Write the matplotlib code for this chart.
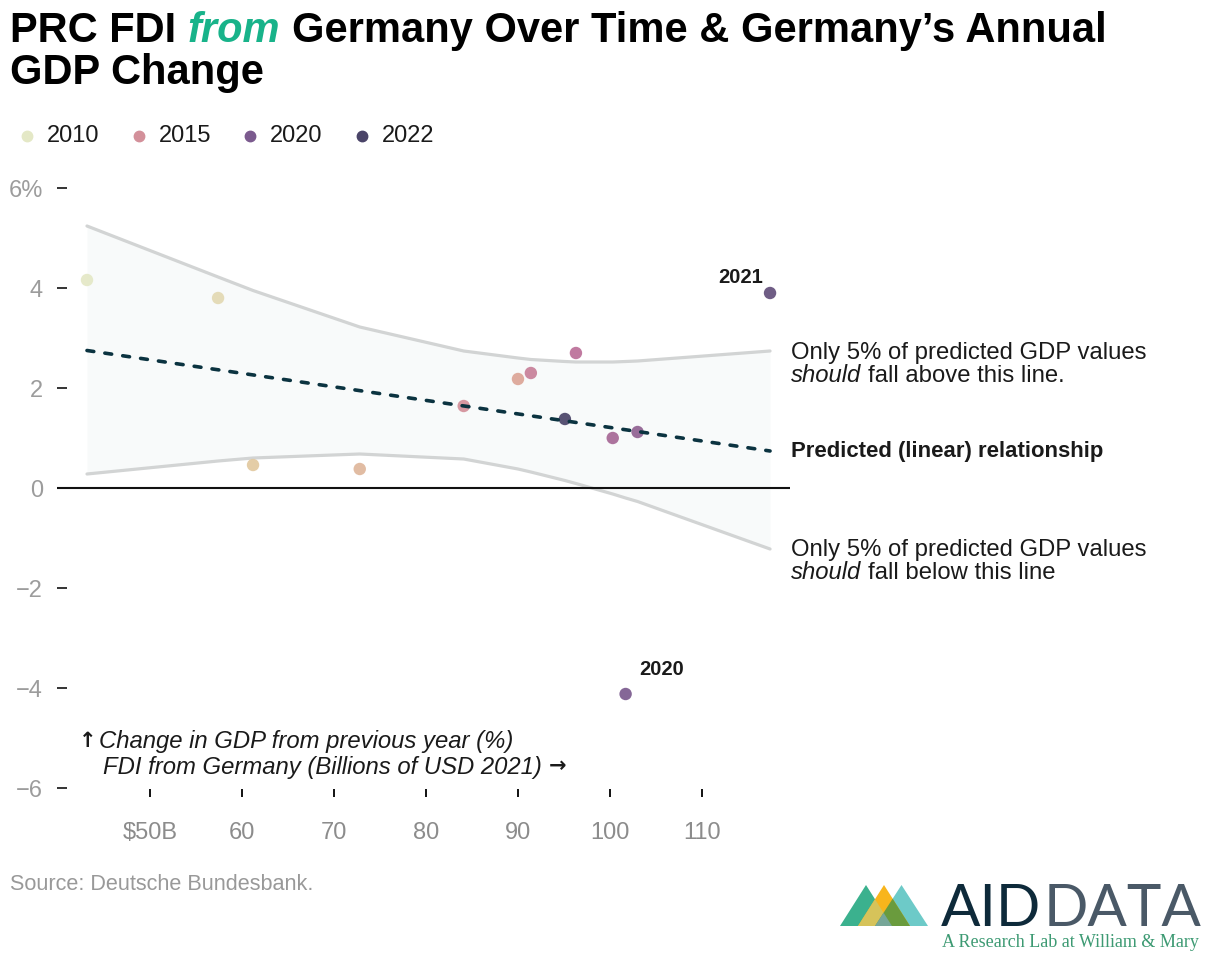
import numpy as np
import matplotlib
matplotlib.use("Agg")
import matplotlib.pyplot as plt
from matplotlib.colors import LinearSegmentedColormap
from matplotlib.lines import Line2D
from matplotlib.patches import Polygon

# ---------------- data ----------------
years = [2010, 2011, 2012, 2013, 2014, 2015, 2016, 2017, 2018, 2019, 2020, 2021, 2022]
fdi_bn = [43.15, 57.4, 61.2, 72.8, 90.0, 84.1, 91.4, 96.3, 100.3, 103.0, 101.7, 117.4, 95.1]
gdp_change = [4.16, 3.80, 0.46, 0.38, 2.18, 1.64, 2.30, 2.70, 1.00, 1.12, -4.12, 3.90, 1.38]

band_x = [43.15, 57.4, 61.2, 72.8, 84.1, 90.0, 91.4, 95.1, 96.3, 100.3, 101.7, 103.0, 117.4]
band_upper = [5.24, 4.22, 3.95, 3.22, 2.74, 2.60, 2.57, 2.53, 2.52, 2.52, 2.53, 2.54, 2.74]
band_lower = [0.28, 0.54, 0.60, 0.68, 0.58, 0.38, 0.32, 0.15, 0.09, -0.12, -0.20, -0.27, -1.22]

fit_x = [43.15, 117.4]
fit_y = [2.75, 0.74]

legend_years = [2010, 2015, 2020, 2022]
x_ticks = [50, 60, 70, 80, 90, 100, 110]
x_tick_labels = ["\\$50B", "60", "70", "80", "90", "100", "110"]
y_ticks = [6, 4, 2, 0, -2, -4, -6]
y_tick_labels = ["6%", "4", "2", "0", "\u22122", "\u22124", "\u22126"]

# ---------------- style ----------------
plt.rcParams["font.family"] = ["Liberation Sans", "DejaVu Sans"]
W, H = 1220, 972
fig = plt.figure(figsize=(W / 100, H / 100), dpi=100)
fig.patch.set_facecolor("white")

def fx(x):
    return x / W

def fy(y):
    return 1 - y / H

anchors = [(0.0, "#e4e8c6"), (2 / 12, "#e2c9a0"), (4 / 12, "#dca596"),
           (5 / 12, "#d3909a"), (7 / 12, "#bb6f98"), (10 / 12, "#7c5a8e"), (1.0, "#4a4468")]
cmap = LinearSegmentedColormap.from_list("yrs", anchors)

def ycol(y):
    return cmap((y - 2010) / 12)

ax = fig.add_axes([fx(57), 1 - 789 / H, 733 / W, (789 - 173) / H])
ax.set_xlim(39.89, 119.57)
ax.set_ylim(-6.02, 6.3)
for s in ax.spines.values():
    s.set_visible(False)

ax.fill_between(band_x, band_lower, band_upper, color="#f8fafa", lw=0, zorder=1)
ax.plot(band_x, band_upper, color="#d2d4d4", lw=2.3, zorder=2, solid_capstyle="round")
ax.plot(band_x, band_lower, color="#d2d4d4", lw=2.3, zorder=2, solid_capstyle="round")
ax.axhline(0, color="#111111", lw=1.5, zorder=3)

ax.scatter(fdi_bn, gdp_change, s=80, c=[ycol(y) for y in years], lw=0, alpha=0.92, zorder=4)
ax.plot(fit_x, fit_y, color="#0b3340", lw=2.6, dashes=(1.9, 3.1), dash_capstyle="round", zorder=5)

ax.set_xticks(x_ticks)
ax.set_xticklabels(x_tick_labels)
ax.set_yticks(y_ticks)
ax.set_yticklabels(y_tick_labels)
ax.tick_params(axis="y", direction="in", length=7.2, width=1.2, color="#111111",
               pad=10, labelsize=17, labelcolor="#9c9c9c")
ax.tick_params(axis="x", direction="out", length=5.8, width=1.4, color="#111111",
               pad=18, labelsize=17, labelcolor="#8c8c8c")

i21 = years.index(2021)
ax.annotate("2021", xy=(fdi_bn[i21], gdp_change[i21]), xytext=(-5, 11), textcoords="offset points",
            ha="right", va="center", fontsize=14.5, fontweight="bold", color="#1a1a1a")
i20 = years.index(2020)
ax.annotate("2020", xy=(fdi_bn[i20], gdp_change[i20]), xytext=(10, 18), textcoords="offset points",
            ha="left", va="center", fontsize=14.5, fontweight="bold", color="#1a1a1a")

fig.canvas.draw()
renderer = fig.canvas.get_renderer()

def rich(x, y, parts, size, color="#1a1a1a"):
    """parts: list of (text, style, weight, color); x,y pixel (baseline)"""
    cx = x
    for txt, style, weight, col in parts:
        lead = len(txt) - len(txt.lstrip(" "))
        core = txt.strip(" ")
        trail = len(txt) - len(txt.rstrip(" "))
        sp = size * 100 / 72 * 0.278
        cx += lead * sp
        t = fig.text(fx(cx), fy(y), core, fontsize=size, fontstyle=style, fontweight=weight,
                     color=col if col else color, ha="left", va="baseline")
        bb = t.get_window_extent(renderer)
        cx = bb.x1 + trail * sp
    return cx

# title
green = "#18b38a"
rich(10, 42, [("PRC FDI ", "normal", "bold", "#000000"), ("from", "italic", "bold", green),
              (" Germany Over Time & Germany\u2019s Annual", "normal", "bold", "#000000")], 30)
rich(10, 84, [("GDP Change", "normal", "bold", "#000000")], 30)

# legend
for lx, yr in zip([27, 139, 250, 362], legend_years):
    fig.add_artist(Line2D([fx(lx)], [fy(136)], marker="o", markersize=7.5, color=ycol(yr),
                          lw=0, transform=fig.transFigure))
    fig.text(fx(lx + 20), fy(136), str(yr), fontsize=17, color="#1a1a1a", ha="left", va="center")

# right side notes
ns = 17.2
rich(791, 359, [("Only 5% of predicted GDP values", "normal", "normal", None)], ns)
rich(791, 382, [("should", "italic", "normal", None), (" fall above this line.", "normal", "normal", None)], ns)
rich(791, 457, [("Predicted (linear) relationship", "normal", "bold", None)], 15.9)
rich(791, 556, [("Only 5% of predicted GDP values", "normal", "normal", None)], ns)
rich(791, 579, [("should", "italic", "normal", None), (" fall below this line", "normal", "normal", None)], ns)

# axis titles (arrows drawn as separate glyphs, vertically centred)
arrow_fam = ["DejaVu Sans"]
fig.text(fx(79), fy(741), "\u2191", fontsize=15, color="#1a1a1a", ha="left", va="center",
         family=arrow_fam, fontweight="bold")
fig.text(fx(99), fy(741), "Change in GDP from previous year (%)", fontsize=17.2,
         fontstyle="italic", color="#1a1a1a", ha="left", va="center")
t_fdi = fig.text(fx(103), fy(767), "FDI from Germany (Billions of USD 2021)", fontsize=17.2,
                 fontstyle="italic", color="#1a1a1a", ha="left", va="center")
bbf = t_fdi.get_window_extent(renderer)
fig.text((bbf.x1 + 7) / W, fy(766), "\u2192", fontsize=15, color="#1a1a1a", ha="left",
         va="center", family=arrow_fam, fontweight="bold")

# source
fig.text(fx(10), fy(884), "Source: Deutsche Bundesbank.", fontsize=15.6, color="#999999",
         ha="left", va="center")

# ---------------- logo ----------------
def clip(subject, clipper):
    def inside(p, a, b):
        return (b[0] - a[0]) * (p[1] - a[1]) - (b[1] - a[1]) * (p[0] - a[0]) >= 0
    def inter(p1, p2, a, b):
        x1, y1 = p1; x2, y2 = p2; x3, y3 = a; x4, y4 = b
        den = (x1 - x2) * (y3 - y4) - (y1 - y2) * (x3 - x4)
        t = ((x1 - x3) * (y3 - y4) - (y1 - y3) * (x3 - x4)) / den
        return (x1 + t * (x2 - x1), y1 + t * (y2 - y1))
    out = subject
    n = len(clipper)
    for i in range(n):
        a, b = clipper[i], clipper[(i + 1) % n]
        inp = out
        out = []
        if not inp:
            break
        s = inp[-1]
        for e in inp:
            if inside(e, a, b):
                if not inside(s, a, b):
                    out.append(inter(s, e, a, b))
                out.append(e)
            elif inside(s, a, b):
                out.append(inter(s, e, a, b))
            s = e
    return out

def tri(xl, xr, apex_x, top=885, base=926):
    return [(fx(xl), fy(base)), (fx(xr), fy(base)), (fx(apex_x), fy(top))]

A = tri(840, 892, 866)
B = tri(858, 910, 884)
C = tri(875, 928, 901.5)
AB = clip(A, B)
BC = clip(B, C)
ABC = clip(AB, C)
for poly, col in [(A, "#3bb18e"), (C, "#6dcac8"), (B, "#f8b51c"), (AB, "#d6c35a"),
                  (BC, "#6a9b3d"), (ABC, "#76a698")]:
    if poly:
        fig.add_artist(Polygon(poly, closed=True, transform=fig.transFigure, fc=col, ec="none"))

t_aid = fig.text(fx(941), fy(926), "AID", fontsize=42, family=["Lato", "Liberation Sans"],
                 fontweight="normal", color="#0e2a3a", ha="left", va="baseline")
bb = t_aid.get_window_extent(renderer)
fig.text(bb.x1 / W + 2 / W, fy(926), "DATA", fontsize=42, family=["Lato", "Liberation Sans"],
         fontweight="normal", color="#4a5967", ha="left", va="baseline")
fig.text(fx(942), fy(947), "A Research Lab at William & Mary", fontsize=13.0,
         family=["Liberation Serif", "DejaVu Serif"], color="#3d9a73", ha="left", va="baseline")

fig.savefig("out.png", dpi=100, facecolor="white")
